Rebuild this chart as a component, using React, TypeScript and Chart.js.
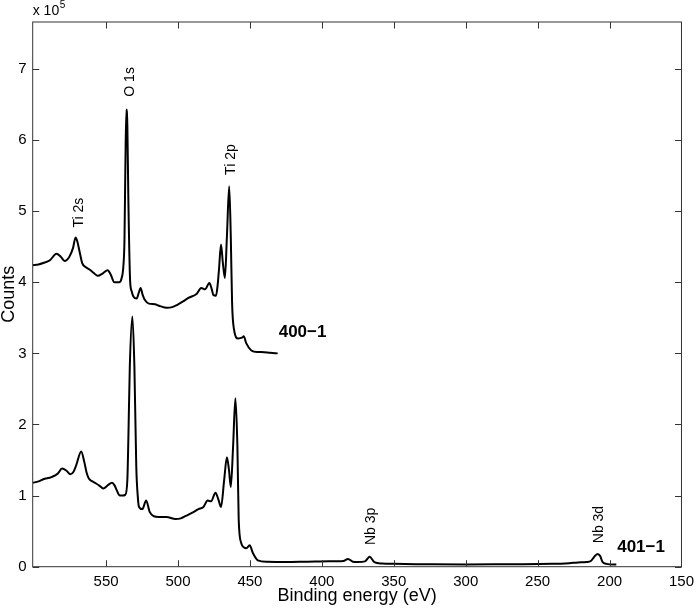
import React, { useEffect, useRef } from "react";
import { Chart, registerables } from "chart.js";

Chart.register(...registerables);

// ---- Data (binding energy in eV, counts in units of 10^5) ----
const upperEnergy = [
  601, 597, 593.7, 589, 584.5, 581.5, 578.8, 575.5, 573, 571.2, 569.8, 568.4, 566.6, 564, 561.5,
  558.5, 555.8, 552, 548.9, 546.8, 544.3, 540.9, 539.3, 538, 537.2, 536.6, 535.9, 535.2, 534.5,
  533.3, 532.3, 531, 528.7, 527.3, 526, 524.5, 523, 520.2, 516, 513.3, 507.6, 504, 500.7, 496.5,
  492.7, 486.9, 483.9, 481.2, 478.2, 476.5, 475.4, 473.6, 472.5, 471.5, 470.1, 468.8, 467.4, 466,
  464.4, 463.3, 462.4, 461, 458.2, 455.5, 454.3, 452.5, 449, 445, 442.2, 436, 430.7,
];
const upperCounts = [
  4.24, 4.25, 4.27, 4.31, 4.4, 4.36, 4.3, 4.36, 4.48, 4.63, 4.56, 4.43, 4.27, 4.21, 4.18,
  4.13, 4.09, 4.13, 4.17, 4.11, 4.0, 4.0, 4.05, 4.22, 4.6, 5.6, 6.43, 6.2, 5.16,
  4.03, 3.88, 3.8, 3.77, 3.85, 3.92, 3.82, 3.75, 3.7, 3.69, 3.67, 3.64, 3.65, 3.68, 3.73,
  3.78, 3.84, 3.92, 3.9, 3.99, 3.9, 3.82, 3.81, 3.95, 4.18, 4.53, 4.27, 4.06, 4.64,
  5.35, 4.64, 3.71, 3.33, 3.21, 3.22, 3.24, 3.14, 3.04, 3.02, 3.02, 3.01, 3.0,
];

const lowerEnergy = [
  601, 597, 593.7, 587.9, 583.5, 580.6, 577.5, 574.8, 572.5, 570.7, 567.3, 565, 563.5, 562, 559.5,
  556.9, 554, 551.9, 548.5, 545.9, 544, 542.7, 540.4, 538.3, 536.7, 535.2, 534.5, 533.5, 531.7,
  530.3, 529, 528, 527.1, 524.8, 522.1, 519.7, 516.8, 513.3, 508, 501.8, 498, 494.9, 490, 485.8,
  482.3, 479.4, 477, 473.9, 472, 470.1, 467.9, 466, 464.5, 463.3, 461.7, 460.1, 458.7, 457.8,
  456, 454, 452.5, 450.2, 447.9, 444.5, 437.6, 426, 410, 395, 385, 381.8, 378.5, 375, 370,
  366.8, 363.5, 358, 350, 330, 300, 270, 240, 228, 222, 216, 213, 211, 208.4, 206.5, 205, 202,
  195.3,
];
const lowerCounts = [
  1.18, 1.2, 1.23, 1.26, 1.31, 1.38, 1.35, 1.3, 1.34, 1.43, 1.62, 1.46, 1.32, 1.24, 1.2,
  1.17, 1.13, 1.1, 1.15, 1.18, 1.14, 1.08, 1.0, 1.0, 1.01, 1.22, 1.8, 2.81, 3.52,
  2.81, 1.41, 1.0, 0.84, 0.81, 0.93, 0.77, 0.71, 0.7, 0.7, 0.67, 0.68, 0.71, 0.76, 0.81,
  0.84, 0.93, 0.92, 1.04, 0.95, 0.84, 1.22, 1.54, 1.35, 1.12, 1.69, 2.37, 1.69, 0.66,
  0.33, 0.27, 0.26, 0.3, 0.19, 0.09, 0.07, 0.065, 0.07, 0.075, 0.08, 0.11, 0.07, 0.065, 0.075,
  0.14, 0.065, 0.045, 0.04, 0.035, 0.03, 0.035, 0.04, 0.05, 0.06, 0.065, 0.08, 0.13, 0.18, 0.15, 0.07, 0.04,
  0.03,
];

const xTicks = [550, 500, 450, 400, 350, 300, 250, 200, 150];
const yTicks = [0, 1, 2, 3, 4, 5, 6, 7];

const peakLabels = ["Ti 2s", "O 1s", "Ti 2p", "Nb 3p", "Nb 3d"];
const peakLabelEnergy = [568.4, 533.3, 462.8, 365.7, 206.9];
const peakLabelCounts = [4.77, 6.61, 5.51, 0.305, 0.33];

const sampleLabels = ["400\u22121", "401\u22121"];
const sampleLabelEnergy = [430, 194.7];
const sampleLabelCounts = [3.3, 0.277];

const FONT = '"Liberation Sans", Arial, Helvetica, sans-serif';

const framePlugin = {
  id: "frame",
  afterDraw(chart: any) {
    const { ctx, chartArea: a, scales } = chart;
    const x = scales.x;
    const y = scales.y;
    const tl = 6.5;
    ctx.save();
    ctx.strokeStyle = "#333";
    ctx.lineWidth = 1;
    ctx.strokeRect(a.left, a.top, a.right - a.left, a.bottom - a.top);
    ctx.beginPath();
    xTicks.forEach((v) => {
      const px = Math.round(x.getPixelForValue(v)) + 0.5;
      ctx.moveTo(px, a.bottom);
      ctx.lineTo(px, a.bottom - tl);
      ctx.moveTo(px, a.top);
      ctx.lineTo(px, a.top + tl);
    });
    yTicks.forEach((v) => {
      const py = Math.round(y.getPixelForValue(v)) + 0.5;
      ctx.moveTo(a.left, py);
      ctx.lineTo(a.left + tl, py);
      ctx.moveTo(a.right, py);
      ctx.lineTo(a.right - tl, py);
    });
    ctx.stroke();

    // exponent label
    ctx.fillStyle = "#000";
    ctx.textBaseline = "alphabetic";
    ctx.textAlign = "left";
    ctx.font = `14px ${FONT}`;
    ctx.fillText("x 10", a.left, 15);
    const w = ctx.measureText("x 10").width;
    ctx.font = `10px ${FONT}`;
    ctx.fillText("5", a.left + w + 0.5, 8);

    // peak labels (rotated)
    ctx.font = `14px ${FONT}`;
    peakLabels.forEach((t, i) => {
      const px = x.getPixelForValue(peakLabelEnergy[i]);
      const py = y.getPixelForValue(peakLabelCounts[i]);
      ctx.save();
      ctx.translate(px, py);
      ctx.rotate(-Math.PI / 2);
      ctx.textAlign = "left";
      ctx.textBaseline = "middle";
      ctx.fillText(t, 0, 0);
      ctx.restore();
    });

    // sample labels
    ctx.font = `bold 17px ${FONT}`;
    ctx.textAlign = "left";
    ctx.textBaseline = "middle";
    sampleLabels.forEach((t, i) => {
      const px = x.getPixelForValue(sampleLabelEnergy[i]);
      const py = y.getPixelForValue(sampleLabelCounts[i]);
      ctx.fillText(t, px, py);
    });
    ctx.restore();
  },
};

export default function App() {
  const ref = useRef<HTMLCanvasElement | null>(null);

  useEffect(() => {
    if (!ref.current) return;
    const mk = (ex: number[], cy: number[]) => ex.map((e, i) => ({ x: e, y: cy[i] }));
    const chart = new Chart(ref.current, {
      type: "line",
      data: {
        datasets: [
          {
            label: "400-1",
            data: mk(upperEnergy, upperCounts),
            borderColor: "#000",
            borderWidth: 2,
            pointRadius: 0,
            cubicInterpolationMode: "monotone",
            fill: false,
          },
          {
            label: "401-1",
            data: mk(lowerEnergy, lowerCounts),
            borderColor: "#000",
            borderWidth: 2,
            pointRadius: 0,
            cubicInterpolationMode: "monotone",
            fill: false,
          },
        ],
      },
      options: {
        animation: false,
        responsive: false,
        devicePixelRatio: 1,
        layout: { padding: { top: 22, right: 12.3, left: 0, bottom: 0 } },
        plugins: {
          legend: { display: false },
          tooltip: { enabled: false },
        },
        scales: {
          x: {
            type: "linear",
            reverse: true,
            min: 150,
            max: 601,
            grid: { display: false, drawTicks: false },
            border: { display: false },
            afterBuildTicks: (s: any) => {
              s.ticks = xTicks.map((v) => ({ value: v }));
            },
            afterFit: (s: any) => {
              s.height = 43.3;
            },
            ticks: {
              color: "#000",
              padding: 6,
              maxRotation: 0,
              autoSkip: false,
              font: { family: FONT, size: 15 },
            },
            title: {
              display: true,
              text: "Binding energy (eV)",
              color: "#000",
              padding: { top: 0, bottom: 3 },
              font: { family: FONT, size: 18, lineHeight: 1.2 },
            },
          },
          y: {
            type: "linear",
            min: 0,
            max: 7.66,
            grid: { display: false, drawTicks: false },
            border: { display: false },
            afterBuildTicks: (s: any) => {
              s.ticks = yTicks.map((v) => ({ value: v }));
            },
            afterFit: (s: any) => {
              s.width = 32.7;
            },
            ticks: {
              color: "#000",
              padding: 6,
              autoSkip: false,
              font: { family: FONT, size: 15 },
            },
            title: {
              display: true,
              text: "Counts",
              color: "#000",
              padding: { top: 0, bottom: 0 },
              font: { family: FONT, size: 18, lineHeight: 1.0 },
            },
          },
        },
      },
      plugins: [framePlugin],
    } as any);
    return () => chart.destroy();
  }, []);

  return (
    <div style={{ position: "fixed", left: 0, top: 0, width: 700, height: 610, background: "#fff" }}>
      <canvas ref={ref} width={700} height={610} style={{ display: "block", width: 700, height: 610 }} />
    </div>
  );
}
